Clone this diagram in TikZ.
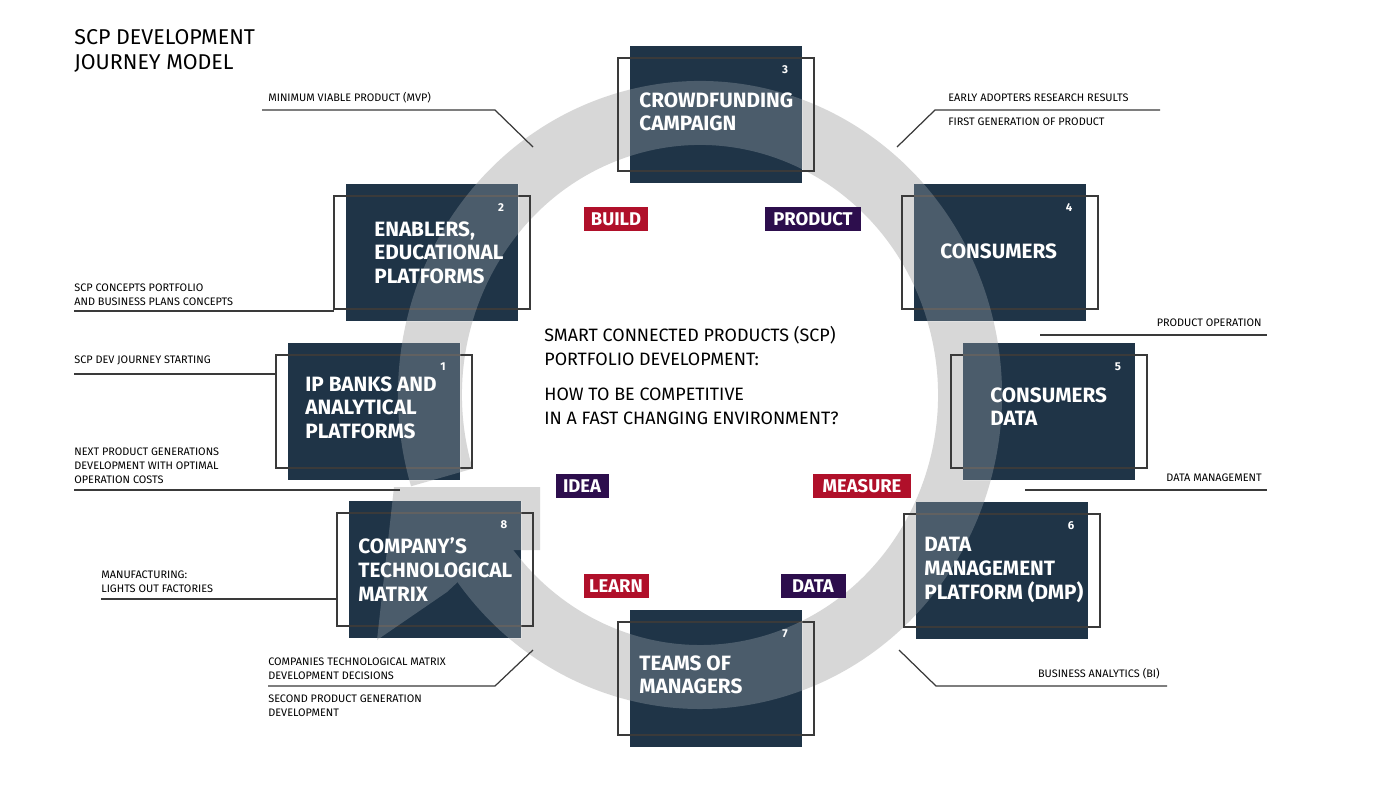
\documentclass[tikz,border=0pt]{standalone}
\usepackage{fontspec}
\setmainfont{Fira Sans}
\definecolor{boxblue}{HTML}{1F3447}
\definecolor{ringgray}{HTML}{D7D7D7}
\definecolor{tagred}{HTML}{B0102A}
\definecolor{tagpurple}{HTML}{2D0E4D}
\definecolor{leader}{HTML}{3A3A3A}
\tikzset{
  stepbox/.style={fill=boxblue, draw=none},
  frame/.style={draw=leader, line width=1.1pt},
  steptext/.style={text=white, font=\fontsize{11.8}{13.6}\selectfont\bfseries, align=left, anchor=north west, inner sep=0pt},
  stepnum/.style={text=white, font=\fontsize{6.5}{7}\selectfont\bfseries, inner sep=0pt},
  tag/.style={text=white, font=\fontsize{10.5}{12}\selectfont\bfseries, inner sep=0pt, minimum height=0.47cm},
  note/.style={font=\fontsize{6.2}{7.9}\selectfont, align=left, inner sep=0pt, text=black},
  link/.style={draw=leader, line width=0.7pt},
  ring/.style={line width=1.28cm}
}
\newcommand\cycle[1]{%
  \draw[ring, #1] (700,395) ++(163:270 and 282) arc[start angle=163, end angle=506, x radius=270, y radius=282];
  \fill[#1] (540,550) -- (540,487) -- (394,487) -- (377,640) -- (447,592) -- (492,550) -- cycle;}
\begin{document}
\begin{tikzpicture}[x=0.02cm, y=-0.02cm]
    \fill[white] (0,0) rectangle (1400,788);
    % big cycle
    \cycle{ringgray}
    % steps
    \foreach \n/\x/\y in {1/288/343, 2/346/184, 3/630/46, 4/914/184, 5/963/343, 6/916/502, 7/630/610, 8/349/501} {
        \fill[stepbox] (\x,\y) rectangle ++(172,137);
        \draw[frame] (\x-12,\y+12) rectangle ++(196,113);
        \node[stepnum] (n\n) at (\x+155,\y+24) {\n};
    }
    % ring seen through the boxes
    \begin{scope}
      \clip (288,343) rectangle ++(172,137) (346,184) rectangle ++(172,137)
            (630,46) rectangle ++(172,137) (914,184) rectangle ++(172,137)
            (963,343) rectangle ++(172,137) (916,502) rectangle ++(172,137)
            (630,610) rectangle ++(172,137) (349,501) rectangle ++(172,137);
      \begin{scope}[transparency group, opacity=0.2]
        \cycle{white}
      \end{scope}
    \end{scope}
    \node[steptext] (t1) at (305,376) {IP BANKS AND\\ANALYTICAL\\PLATFORMS};
    \node[steptext] (t2) at (374,221) {ENABLERS,\\EDUCATIONAL\\PLATFORMS};
    \node[steptext] (t3) at (639,92) {CROWDFUNDING\\CAMPAIGN};
    \node[steptext] (t4) at (940,243) {CONSUMERS};
    \node[steptext] (t5) at (990,387) {CONSUMERS\\DATA};
    \node[steptext] (t6) at (924,537) {DATA\\MANAGEMENT\\PLATFORM (DMP)};
    \node[steptext] (t7) at (639,655) {TEAMS OF\\MANAGERS};
    \node[steptext] (t8) at (358,537) {COMPANY’S\\TECHNOLOGICAL\\MATRIX};
    % tags
    \node[tag, fill=tagred, minimum width=1.28cm] (build) at (616,219) {BUILD};
    \node[tag, fill=tagpurple, minimum width=1.94cm] (product) at (813,219) {PRODUCT};
    \node[tag, fill=tagpurple, minimum width=1.06cm] (idea) at (582,486) {IDEA};
    \node[tag, fill=tagred, minimum width=1.96cm] (measure) at (862,486) {MEASURE};
    \node[tag, fill=tagred, minimum width=1.3cm] (learn) at (616,586) {LEARN};
    \node[tag, fill=tagpurple, minimum width=1.3cm] (data) at (813,586) {DATA};
    % titles
    \node[note, font=\fontsize{12.2}{14.5}\selectfont, anchor=north west] (title) at (74,29) {SCP DEVELOPMENT\\JOURNEY MODEL};
    \node[note, font=\fontsize{10.2}{13.6}\selectfont, anchor=north west] (q1) at (544,326) {SMART CONNECTED PRODUCTS (SCP)\\PORTFOLIO DEVELOPMENT:};
    \node[note, font=\fontsize{10.2}{13.6}\selectfont, anchor=north west] (q2) at (544,388) {HOW TO BE COMPETITIVE\\IN A FAST CHANGING ENVIRONMENT?};
    % notes and leaders
    \node[note, anchor=west] (mvp) at (268,98) {MINIMUM VIABLE PRODUCT (MVP)};
    \coordinate (mvpa) at (262,110); \coordinate (mvpb) at (495,110); \coordinate (mvpc) at (533,147);
    \draw[link] (mvpa) -- (mvpb) -- (mvpc);
    \node[note, anchor=west] (early) at (948,98) {EARLY ADOPTERS RESEARCH RESULTS};
    \node[note, anchor=west] (first) at (948,122) {FIRST GENERATION OF PRODUCT};
    \coordinate (ea) at (1160,110); \coordinate (eb) at (935,110); \coordinate (ec) at (897,147);
    \draw[link] (ea) -- (eb) -- (ec);
    \node[note, anchor=south west] (concepts) at (74,306) {SCP CONCEPTS PORTFOLIO\\AND BUSINESS PLANS CONCEPTS};
    \coordinate (ca) at (74,311); \coordinate (cb) at (334,311);
    \draw[link] (ca) -- (cb);
    \node[note, anchor=west] (start) at (74,360) {SCP DEV JOURNEY STARTING};
    \coordinate (sa) at (74,374); \coordinate (sb) at (276,374);
    \draw[link] (sa) -- (sb);
    \node[note, anchor=south west] (next) at (74,484) {NEXT PRODUCT GENERATIONS\\DEVELOPMENT WITH OPTIMAL\\OPERATION COSTS};
    \coordinate (na) at (74,490); \coordinate (nb) at (400,490);
    \draw[link] (na) -- (nb);
    \node[note, anchor=south west] (manuf) at (101,593) {MANUFACTURING:\\LIGHTS OUT FACTORIES};
    \coordinate (ma) at (101,599); \coordinate (mb) at (337,599);
    \draw[link] (ma) -- (mb);
    \node[note, anchor=south west] (matrix) at (268,680) {COMPANIES TECHNOLOGICAL MATRIX\\DEVELOPMENT DECISIONS};
    \node[note, anchor=north west] (second) at (268,695) {SECOND PRODUCT GENERATION\\DEVELOPMENT};
    \coordinate (xa) at (268,686); \coordinate (xb) at (495,686); \coordinate (xc) at (533,650);
    \draw[link] (xa) -- (xb) -- (xc);
    \node[note, anchor=east] (oper) at (1262,323) {PRODUCT OPERATION};
    \coordinate (oa) at (1040,335); \coordinate (ob) at (1267,335);
    \draw[link] (oa) -- (ob);
    \node[note, anchor=east] (dm) at (1262,478) {DATA MANAGEMENT};
    \coordinate (da) at (1025,490); \coordinate (db) at (1267,490);
    \draw[link] (da) -- (db);
    \node[note, anchor=east] (bi) at (1160,674) {BUSINESS ANALYTICS (BI)};
    \coordinate (ba) at (1167,686); \coordinate (bb) at (936,686); \coordinate (bc) at (899,650);
    \draw[link] (ba) -- (bb) -- (bc);
    \useasboundingbox (0,0) rectangle (1400,788);
\end{tikzpicture}
\end{document}
